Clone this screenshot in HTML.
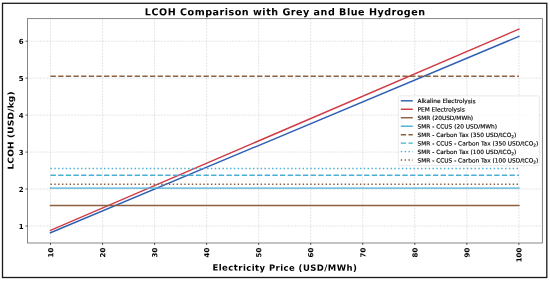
<!DOCTYPE html>
<html><head><meta charset="utf-8"><style>
html,body{margin:0;padding:0;background:#fff;}
svg{display:block;font-family:'DejaVu Sans','Liberation Sans',sans-serif;text-rendering:geometricPrecision;}
</style></head><body>
<svg width="550" height="281" viewBox="0 0 550 281" fill="#000">
<rect x="2.5" y="3.3" width="544.3" height="274.2" fill="none" stroke="#1a1a1a" stroke-width="1.3"/>
<line x1="50.50" y1="18.6" x2="50.50" y2="243.0" stroke="#dadada" stroke-width="0.7" stroke-dasharray="2.1 1.0"/>
<line x1="102.54" y1="18.6" x2="102.54" y2="243.0" stroke="#dadada" stroke-width="0.7" stroke-dasharray="2.1 1.0"/>
<line x1="154.59" y1="18.6" x2="154.59" y2="243.0" stroke="#dadada" stroke-width="0.7" stroke-dasharray="2.1 1.0"/>
<line x1="206.63" y1="18.6" x2="206.63" y2="243.0" stroke="#dadada" stroke-width="0.7" stroke-dasharray="2.1 1.0"/>
<line x1="258.68" y1="18.6" x2="258.68" y2="243.0" stroke="#dadada" stroke-width="0.7" stroke-dasharray="2.1 1.0"/>
<line x1="310.72" y1="18.6" x2="310.72" y2="243.0" stroke="#dadada" stroke-width="0.7" stroke-dasharray="2.1 1.0"/>
<line x1="362.76" y1="18.6" x2="362.76" y2="243.0" stroke="#dadada" stroke-width="0.7" stroke-dasharray="2.1 1.0"/>
<line x1="414.81" y1="18.6" x2="414.81" y2="243.0" stroke="#dadada" stroke-width="0.7" stroke-dasharray="2.1 1.0"/>
<line x1="466.85" y1="18.6" x2="466.85" y2="243.0" stroke="#dadada" stroke-width="0.7" stroke-dasharray="2.1 1.0"/>
<line x1="518.90" y1="18.6" x2="518.90" y2="243.0" stroke="#dadada" stroke-width="0.7" stroke-dasharray="2.1 1.0"/>
<line x1="27.5" y1="226.00" x2="542.4" y2="226.00" stroke="#dadada" stroke-width="0.7" stroke-dasharray="2.1 1.0"/>
<line x1="27.5" y1="189.04" x2="542.4" y2="189.04" stroke="#dadada" stroke-width="0.7" stroke-dasharray="2.1 1.0"/>
<line x1="27.5" y1="152.08" x2="542.4" y2="152.08" stroke="#dadada" stroke-width="0.7" stroke-dasharray="2.1 1.0"/>
<line x1="27.5" y1="115.12" x2="542.4" y2="115.12" stroke="#dadada" stroke-width="0.7" stroke-dasharray="2.1 1.0"/>
<line x1="27.5" y1="78.16" x2="542.4" y2="78.16" stroke="#dadada" stroke-width="0.7" stroke-dasharray="2.1 1.0"/>
<line x1="27.5" y1="41.20" x2="542.4" y2="41.20" stroke="#dadada" stroke-width="0.7" stroke-dasharray="2.1 1.0"/>
<line x1="50.50" y1="232.69" x2="518.90" y2="36.40" stroke="#2f5fb3" stroke-width="1.443" stroke-linecap="square"/>
<line x1="50.50" y1="230.29" x2="518.90" y2="29.11" stroke="#d03a45" stroke-width="1.443" stroke-linecap="square"/>
<line x1="50.50" y1="205.41" x2="518.90" y2="205.41" stroke="#8c6040" stroke-width="1.443" stroke-linecap="square"/>
<line x1="50.50" y1="188.12" x2="518.90" y2="188.12" stroke="#4aaed6" stroke-width="1.443" stroke-linecap="square"/>
<line x1="50.50" y1="76.20" x2="518.90" y2="76.20" stroke="#8c6040" stroke-width="1.443" stroke-dasharray="5.34 2.31" stroke-linecap="butt"/>
<line x1="50.50" y1="175.22" x2="518.90" y2="175.22" stroke="#4aaed6" stroke-width="1.443" stroke-dasharray="5.34 2.31" stroke-linecap="butt"/>
<line x1="50.50" y1="168.49" x2="518.90" y2="168.49" stroke="#4aaed6" stroke-width="1.443" stroke-dasharray="1.44 2.38" stroke-linecap="butt"/>
<line x1="50.50" y1="184.31" x2="518.90" y2="184.31" stroke="#8c6040" stroke-width="1.443" stroke-dasharray="1.44 2.38" stroke-linecap="butt"/>
<rect x="27.5" y="18.6" width="514.90" height="224.40" fill="none" stroke="#7a7a7a" stroke-width="0.9"/>
<line x1="50.50" y1="243.0" x2="50.50" y2="245.0" stroke="#333" stroke-width="0.8"/>
<text transform="translate(53.14,247.70) rotate(-90) matrix(1,0.0005,0.0005,1,0,0)" text-anchor="end" font-size="7.0" font-weight="bold">10</text>
<line x1="102.54" y1="243.0" x2="102.54" y2="245.0" stroke="#333" stroke-width="0.8"/>
<text transform="translate(105.18,247.70) rotate(-90) matrix(1,0.0005,0.0005,1,0,0)" text-anchor="end" font-size="7.0" font-weight="bold">20</text>
<line x1="154.59" y1="243.0" x2="154.59" y2="245.0" stroke="#333" stroke-width="0.8"/>
<text transform="translate(157.23,247.70) rotate(-90) matrix(1,0.0005,0.0005,1,0,0)" text-anchor="end" font-size="7.0" font-weight="bold">30</text>
<line x1="206.63" y1="243.0" x2="206.63" y2="245.0" stroke="#333" stroke-width="0.8"/>
<text transform="translate(209.27,247.70) rotate(-90) matrix(1,0.0005,0.0005,1,0,0)" text-anchor="end" font-size="7.0" font-weight="bold">40</text>
<line x1="258.68" y1="243.0" x2="258.68" y2="245.0" stroke="#333" stroke-width="0.8"/>
<text transform="translate(261.32,247.70) rotate(-90) matrix(1,0.0005,0.0005,1,0,0)" text-anchor="end" font-size="7.0" font-weight="bold">50</text>
<line x1="310.72" y1="243.0" x2="310.72" y2="245.0" stroke="#333" stroke-width="0.8"/>
<text transform="translate(313.36,247.70) rotate(-90) matrix(1,0.0005,0.0005,1,0,0)" text-anchor="end" font-size="7.0" font-weight="bold">60</text>
<line x1="362.76" y1="243.0" x2="362.76" y2="245.0" stroke="#333" stroke-width="0.8"/>
<text transform="translate(365.40,247.70) rotate(-90) matrix(1,0.0005,0.0005,1,0,0)" text-anchor="end" font-size="7.0" font-weight="bold">70</text>
<line x1="414.81" y1="243.0" x2="414.81" y2="245.0" stroke="#333" stroke-width="0.8"/>
<text transform="translate(417.45,247.70) rotate(-90) matrix(1,0.0005,0.0005,1,0,0)" text-anchor="end" font-size="7.0" font-weight="bold">80</text>
<line x1="466.85" y1="243.0" x2="466.85" y2="245.0" stroke="#333" stroke-width="0.8"/>
<text transform="translate(469.49,247.70) rotate(-90) matrix(1,0.0005,0.0005,1,0,0)" text-anchor="end" font-size="7.0" font-weight="bold">90</text>
<line x1="518.90" y1="243.0" x2="518.90" y2="245.0" stroke="#333" stroke-width="0.8"/>
<text transform="translate(521.54,247.70) rotate(-90) matrix(1,0.0005,0.0005,1,0,0)" text-anchor="end" font-size="7.0" font-weight="bold">100</text>
<line x1="25.5" y1="226.00" x2="27.5" y2="226.00" stroke="#333" stroke-width="0.8"/>
<text transform="translate(23.70,228.90) matrix(1,0.0005,0.0005,1,0,0)" text-anchor="end" font-size="7.0" font-weight="bold">1</text>
<line x1="25.5" y1="189.04" x2="27.5" y2="189.04" stroke="#333" stroke-width="0.8"/>
<text transform="translate(23.70,191.94) matrix(1,0.0005,0.0005,1,0,0)" text-anchor="end" font-size="7.0" font-weight="bold">2</text>
<line x1="25.5" y1="152.08" x2="27.5" y2="152.08" stroke="#333" stroke-width="0.8"/>
<text transform="translate(23.70,154.98) matrix(1,0.0005,0.0005,1,0,0)" text-anchor="end" font-size="7.0" font-weight="bold">3</text>
<line x1="25.5" y1="115.12" x2="27.5" y2="115.12" stroke="#333" stroke-width="0.8"/>
<text transform="translate(23.70,118.02) matrix(1,0.0005,0.0005,1,0,0)" text-anchor="end" font-size="7.0" font-weight="bold">4</text>
<line x1="25.5" y1="78.16" x2="27.5" y2="78.16" stroke="#333" stroke-width="0.8"/>
<text transform="translate(23.70,81.06) matrix(1,0.0005,0.0005,1,0,0)" text-anchor="end" font-size="7.0" font-weight="bold">5</text>
<line x1="25.5" y1="41.20" x2="27.5" y2="41.20" stroke="#333" stroke-width="0.8"/>
<text transform="translate(23.70,44.10) matrix(1,0.0005,0.0005,1,0,0)" text-anchor="end" font-size="7.0" font-weight="bold">6</text>
<text transform="translate(285.2,15.2) matrix(1,0.0005,0.0005,1,0,0)" text-anchor="middle" font-size="9.6" letter-spacing="0.5" font-weight="bold">LCOH Comparison with Grey and Blue Hydrogen</text>
<text transform="translate(284.9,270.65) matrix(1,0.0005,0.0005,1,0,0)" text-anchor="middle" font-size="8.5" letter-spacing="0.43" font-weight="bold">Electricity Price (USD/MWh)</text>
<text transform="translate(13.6,130.4) rotate(-90) scale(1.14,1) matrix(1,0.0005,0.0005,1,0,0)" text-anchor="middle" font-size="8.0" letter-spacing="0.1" font-weight="bold">LCOH (USD/kg)</text>
<rect x="398.3" y="95.9" width="141.00" height="69.70" rx="1.6" fill="#fff" fill-opacity="0.8" stroke="#dcdcdc" stroke-width="0.6"/>
<line x1="400.8" y1="100.80" x2="412.8" y2="100.80" stroke="#2f5fb3" stroke-width="1.443"/>
<text transform="translate(417.5,103.10) matrix(1,0.0005,0.0005,1,0,0)" font-size="5.85" stroke="#000" stroke-width="0.15">Alkaline Electrolysis</text>
<line x1="400.8" y1="109.27" x2="412.8" y2="109.27" stroke="#d03a45" stroke-width="1.443"/>
<text transform="translate(417.5,111.57) matrix(1,0.0005,0.0005,1,0,0)" font-size="5.85" stroke="#000" stroke-width="0.15">PEM Electrolysis</text>
<line x1="400.8" y1="117.74" x2="412.8" y2="117.74" stroke="#8c6040" stroke-width="1.443"/>
<text transform="translate(417.5,120.04) matrix(1,0.0005,0.0005,1,0,0)" font-size="5.85" stroke="#000" stroke-width="0.15">SMR (20USD/MWh)</text>
<line x1="400.8" y1="126.21" x2="412.8" y2="126.21" stroke="#4aaed6" stroke-width="1.443"/>
<text transform="translate(417.5,128.51) matrix(1,0.0005,0.0005,1,0,0)" font-size="5.85" stroke="#000" stroke-width="0.15">SMR - CCUS (20 USD/MWh)</text>
<line x1="400.8" y1="134.68" x2="412.8" y2="134.68" stroke="#8c6040" stroke-width="1.443" stroke-dasharray="5.34 2.31"/>
<text transform="translate(417.5,136.98) matrix(1,0.0005,0.0005,1,0,0)" font-size="5.85" stroke="#000" stroke-width="0.15">SMR - Carbon Tax (350 USD/tCO<tspan font-size="4.2" dy="1.3">2</tspan><tspan dy="-1.3">)</tspan></text>
<line x1="400.8" y1="143.15" x2="412.8" y2="143.15" stroke="#4aaed6" stroke-width="1.443" stroke-dasharray="5.34 2.31"/>
<text transform="translate(417.5,145.45) matrix(1,0.0005,0.0005,1,0,0)" font-size="5.85" stroke="#000" stroke-width="0.15">SMR - CCUS - Carbon Tax (350 USD/tCO<tspan font-size="4.2" dy="1.3">2</tspan><tspan dy="-1.3">)</tspan></text>
<line x1="400.8" y1="151.62" x2="412.8" y2="151.62" stroke="#4aaed6" stroke-width="1.443" stroke-dasharray="1.44 2.38"/>
<text transform="translate(417.5,153.92) matrix(1,0.0005,0.0005,1,0,0)" font-size="5.85" stroke="#000" stroke-width="0.15">SMR - Carbon Tax (100 USD/tCO<tspan font-size="4.2" dy="1.3">2</tspan><tspan dy="-1.3">)</tspan></text>
<line x1="400.8" y1="160.09" x2="412.8" y2="160.09" stroke="#8c6040" stroke-width="1.443" stroke-dasharray="1.44 2.38"/>
<text transform="translate(417.5,162.39) matrix(1,0.0005,0.0005,1,0,0)" font-size="5.85" stroke="#000" stroke-width="0.15">SMR - CCUS - Carbon Tax (100 USD/tCO<tspan font-size="4.2" dy="1.3">2</tspan><tspan dy="-1.3">)</tspan></text>
</svg>
</body></html>
